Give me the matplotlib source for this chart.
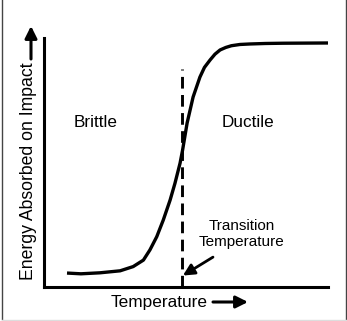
import numpy as np
import matplotlib
matplotlib.use('Agg')
import matplotlib.pyplot as plt
from matplotlib.lines import Line2D
from matplotlib.patches import FancyArrowPatch

plt.rcParams['font.family'] = ['Liberation Sans', 'DejaVu Sans']

# Curve (temperature, energy), both in 0-100 units
temperature = [8.1, 13.0, 19.7, 26.8, 31.4, 35.0, 37.3, 39.7, 42.0, 44.4, 46.1, 47.9,
               48.8, 50.4, 52.5, 54.9, 56.5, 58.5, 60.2, 62.0, 64.0, 66.0, 69.0,
               72.5, 78.0, 84.2, 100.0]
energy = [5.6, 5.3, 5.7, 6.5, 8.2, 10.8, 14.9, 20.2, 26.9, 34.9, 41.6, 49.7,
          55.0, 65.9, 76.3, 84.3, 88.2, 91.2, 93.5, 95.2, 96.2, 96.9, 97.4,
          97.6, 97.8, 97.9, 98.0]

transition_temp = 48.6
dash_top = 87.6

region_labels = ['Brittle', 'Ductile']
region_x = [18.3, 71.8]
region_y = [65.9, 65.9]

fig = plt.figure(figsize=(3.47, 3.21), dpi=100)
ax = fig.add_axes([44 / 347, 34 / 321, 284 / 347, 249 / 321])

# Main curve
ax.plot(temperature, energy, color='black', lw=2.4, solid_capstyle='butt',
        solid_joinstyle='round')

# Dashed transition line
ax.plot([transition_temp, transition_temp], [0, dash_top], color='black',
        lw=2.1, dashes=(4, 2.2))

# Region names
for lab, x, y in zip(region_labels, region_x, region_y):
    ax.text(x, y, lab, ha='center', va='center', fontsize=12.3)

# Transition temperature note with arrow
ax.text(69.7, 21.3, 'Transition\nTemperature', ha='center', va='center',
        fontsize=11.0, linespacing=1.15)
ax.annotate('', xy=(48.9, 4.6), xytext=(59.5, 12.0),
            arrowprops=dict(arrowstyle='-|>', color='black', lw=2.0,
                            mutation_scale=17, shrinkA=0, shrinkB=0))

ax.set_xlim(0, 100)
ax.set_ylim(0, 100)
ax.set_xticks([])
ax.set_yticks([])
ax.spines['top'].set_visible(False)
ax.spines['right'].set_visible(False)
ax.spines['left'].set_linewidth(2.2)
ax.spines['bottom'].set_linewidth(2.2)

# Axis titles with arrows (figure pixel coordinates)
W, H = 347, 321
fig.text(159 / W, 1 - 302 / H, 'Temperature', ha='center', va='center', fontsize=12.4)
fig.add_artist(FancyArrowPatch(
    (213 / W, 1 - 302 / H), (248 / W, 1 - 302 / H), transform=fig.transFigure,
    arrowstyle='-|>', mutation_scale=18, lw=2.2, color='black',
    shrinkA=0, shrinkB=0))
fig.text(29 / W, 1 - 171 / H, 'Energy Absorbed on Impact', ha='center', va='center',
         rotation=90, fontsize=12.7)
fig.add_artist(FancyArrowPatch(
    (31 / W, 1 - 59 / H), (31 / W, 1 - 26 / H), transform=fig.transFigure,
    arrowstyle='-|>', mutation_scale=18, lw=2.2, color='black',
    shrinkA=0, shrinkB=0))

# Frame around the picture
fig.add_artist(Line2D([1.5 / W, 1.5 / W], [1 - 319 / H, 1], transform=fig.transFigure,
                      color='#444444', lw=1.0))
fig.add_artist(Line2D([345.5 / W, 345.5 / W], [1 - 319 / H, 1], transform=fig.transFigure,
                      color='#444444', lw=1.0))
fig.add_artist(Line2D([1.5 / W, 345.5 / W], [1 - 319.5 / H, 1 - 319.5 / H],
                      transform=fig.transFigure, color='#dddddd', lw=1.0))

fig.savefig('out.png', dpi=100)
